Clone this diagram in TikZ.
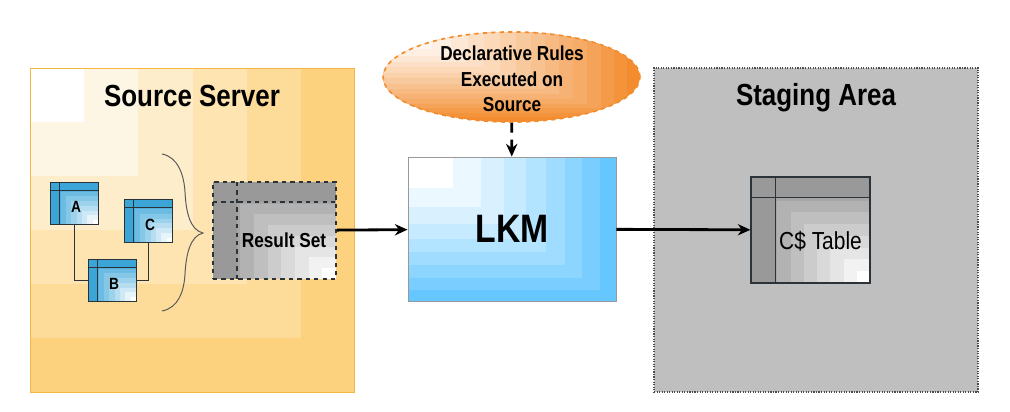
\documentclass[tikz,border=0pt]{standalone}
\usepackage{fontspec}
\setmainfont[FakeStretch=0.85]{Liberation Sans}
\usetikzlibrary{arrows.meta,calc,positioning,shapes.geometric}
\definecolor{sourcefill}{HTML}{FDD27E}
\definecolor{sourceedge}{HTML}{F5B642}
\definecolor{lkmfill}{HTML}{66C7FF}
\definecolor{rulesfill}{HTML}{F28C2E}
\definecolor{tableblue}{HTML}{3BA5D8}
\definecolor{tablegray}{HTML}{999999}
\definecolor{stagingfill}{HTML}{BFBFBF}
\definecolor{tableedge}{HTML}{2B3338}

\begin{document}
\begin{tikzpicture}[
    x=0.025cm, y=-0.025cm,
    stepsfill/.style n args={3}{path picture={
        \foreach \k in {#2,...,1} {
            \pgfmathsetmacro{\steppct}{100*(\k-1)/(#2-1)}
            \pgfmathsetmacro{\stepfrac}{(\k/#2)^#3}
            \fill[#1!\steppct!white] (path picture bounding box.north west) rectangle
                ($(path picture bounding box.north west)!\stepfrac!(path picture bounding box.south east)$);
        }
    }},
    tablebox/.style n args={4}{rectangle, inner sep=0pt, path picture={
        \foreach \k in {9,...,1} {
            \pgfmathsetmacro{\steppct}{100*(\k-1)/8}
            \pgfmathsetmacro{\stepfrac}{\k/9}
            \fill[#1!\steppct!white] (path picture bounding box.south east) rectangle
                ($(path picture bounding box.south east)!\stepfrac!(path picture bounding box.north west)$);
        }
        \fill[#1] (path picture bounding box.north west) rectangle ($(path picture bounding box.north east)+(0,#3)$);
        \fill[#1] (path picture bounding box.north west) rectangle ($(path picture bounding box.south west)+(#2,0)$);
        \draw[tableedge, #4] ($(path picture bounding box.north west)+(0,#3)$) -- ($(path picture bounding box.north east)+(0,#3)$);
        \draw[tableedge, #4] ($(path picture bounding box.north west)+(#2,0)$) -- ($(path picture bounding box.south west)+(#2,0)$);
    }},
    smalltable/.style={tablebox={tableblue}{9}{8}{line width=0.7pt}, draw=tableedge, line width=0.7pt, minimum width=1.2cm, minimum height=1.07cm},
    server/.style={rectangle, minimum width=8.1cm, minimum height=8.1cm},
    title/.style={font=\fontsize{21.7}{26}\selectfont\bfseries},
    tablename/.style={font=\fontsize{11.5}{14}\selectfont\bfseries},
    arrow/.style={-{Stealth[length=9pt, width=8pt]}, line width=2pt},
    link/.style={draw=tableedge, line width=0.7pt}
]
    \useasboundingbox (0,0) rectangle (1010,412);

    \node[server, draw=sourceedge, stepsfill={sourcefill}{6}{1}] (source) at (192.5,230) {};
    \node[server, draw=black!70, densely dotted, line width=0.8pt, fill=stagingfill] (staging) at (816,230) {};
    \node[title] (sourcetitle) at (192,96) {Source Server};
    \node[title] (stagingtitle) at (816,98) {Staging Area};

    \node[smalltable] (tableA) at (74,203.5) {};
    \node[smalltable] (tableC) at (148,221) {};
    \node[smalltable] (tableB) at (112,280.5) {};
    \node[tablename] (nameA) at (76,207) {A};
    \node[tablename] (nameC) at (150,225) {C};
    \node[tablename] (nameB) at (114,284) {B};

    \draw[link] (tableA.south) |- (tableB.west);
    \draw[link] (tableC.south) |- (tableB.east);

    % brace over the three tables
    \draw[black!65, line width=0.7pt] (162,154) .. controls (178,157) and (184,175) .. (185,192)
        .. controls (186,212) and (190,230) .. (203,233)
        .. controls (190,236) and (186,255) .. (185,274)
        .. controls (184,292) and (178,308) .. (162,311);

    \node[tablebox={tablegray}{24}{20}{dashed, line width=1.1pt}, draw=tableedge, dashed, line width=1.1pt,
        minimum width=3.075cm, minimum height=2.425cm] (result) at (274.5,230.5) {};
    \node[font=\fontsize{14.4}{17}\selectfont\bfseries] (resulttext) at (284,240) {Result Set};

    \node[rectangle, draw=black!40, line width=0.6pt, stepsfill={lkmfill}{9}{0.7},
        minimum width=5.2cm, minimum height=3.6cm, font=\fontsize{28.2}{32}\selectfont\bfseries] (lkm) at (512,229) {LKM};

    \node[ellipse, draw=rulesfill, dashed, line width=1.2pt, inner sep=0pt, minimum width=6.42cm, minimum height=2.25cm,
        stepsfill={rulesfill}{16}{0.8}] (rules) at (511.5,77) {};
    \node[align=center, font=\fontsize{14.4}{18}\selectfont\bfseries] (rulestext) at (512,79) {Declarative Rules\\Executed on\\Source};

    \node[tablebox={tablegray}{24}{21}{line width=0.7pt}, draw=tableedge, line width=0.8pt,
        minimum width=2.975cm, minimum height=2.65cm] (cstable) at (810.5,230) {};
    \node[font=\fontsize{17.5}{21}\selectfont] (cstext) at (820.5,241) {C\$ Table};

    \draw[arrow] (result) -- (lkm);
    \draw[arrow] (lkm) -- (cstable);
    \draw[arrow, dash pattern=on 7pt off 5pt] (rules) -- (lkm);
\end{tikzpicture}
\end{document}
